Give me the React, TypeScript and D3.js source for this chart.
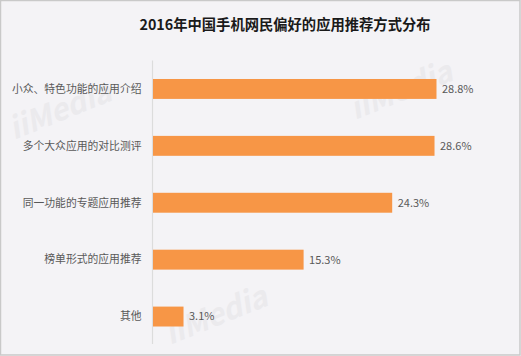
import React from "react";
import * as d3 from "d3";

const categories = [
  "小众、特色功能的应用介绍",
  "多个大众应用的对比测评",
  "同一功能的专题应用推荐",
  "榜单形式的应用推荐",
  "其他",
];
const values = [28.8, 28.6, 24.3, 15.3, 3.1];
const title = "2016年中国手机网民偏好的应用推荐方式分布";

const W = 521;
const H = 356;
const FONT = "'Noto Sans CJK SC', 'Noto Sans', sans-serif";

export default function App() {
  const x = d3.scaleLinear().domain([0, 30]).range([152.5, 152.5 + 295.3]);
  const y = d3
    .scaleBand<string>()
    .domain(categories)
    .range([60.5, 345])
    .paddingInner(0.65)
    .paddingOuter(0.325);

  return (
    <svg
      width={W}
      height={H}
      style={{ position: "absolute", left: 0, top: 0, display: "block" }}
    >
      <rect x={0.5} y={0.5} width={W - 1.5} height={H - 1.5} fill="#f4f3f6" stroke="#c9c9c9" strokeWidth={1.5} />
      {/* watermarks */}
      <g fill="#ebeaed" fontFamily={FONT} fontWeight="bold" fontStyle="italic" fontSize={30}>
        <text x={14} y={140} transform="rotate(-22 14 140)">iiMedia</text>
        <text x={355} y={120} transform="rotate(-22 355 120)">iiMedia</text>
        <text x={170} y={345} transform="rotate(-22 170 345)">iiMedia</text>
      </g>
      <text
        x={285}
        y={30}
        textAnchor="middle"
        fontFamily={FONT}
        fontWeight="bold"
        fontSize={14.3}
        fill="#1a1a1a"
      >
        {title}
      </text>
      <line x1={152.5} x2={152.5} y1={60.5} y2={344} stroke="#dcdcdc" strokeWidth={1.2} />
      {categories.map((c, i) => {
        const yy = y(c)!;
        const bw = y.bandwidth();
        return (
          <g key={c}>
            <rect x={x(0) + 0.5} y={yy} width={x(values[i]) - x(0)} height={bw} fill="#f79646" />
            <text
              x={141.5}
              y={yy + bw / 2}
              dy="0.35em"
              textAnchor="end"
              fontFamily={FONT}
              fontSize={10.8}
              fill="#595959"
            >
              {c}
            </text>
            <text
              x={x(values[i]) + 6}
              y={yy + bw / 2}
              dy="0.35em"
              fontFamily={FONT}
              fontSize={11}
              fill="#595959"
            >
              {values[i].toFixed(1) + "%"}
            </text>
          </g>
        );
      })}
    </svg>
  );
}
